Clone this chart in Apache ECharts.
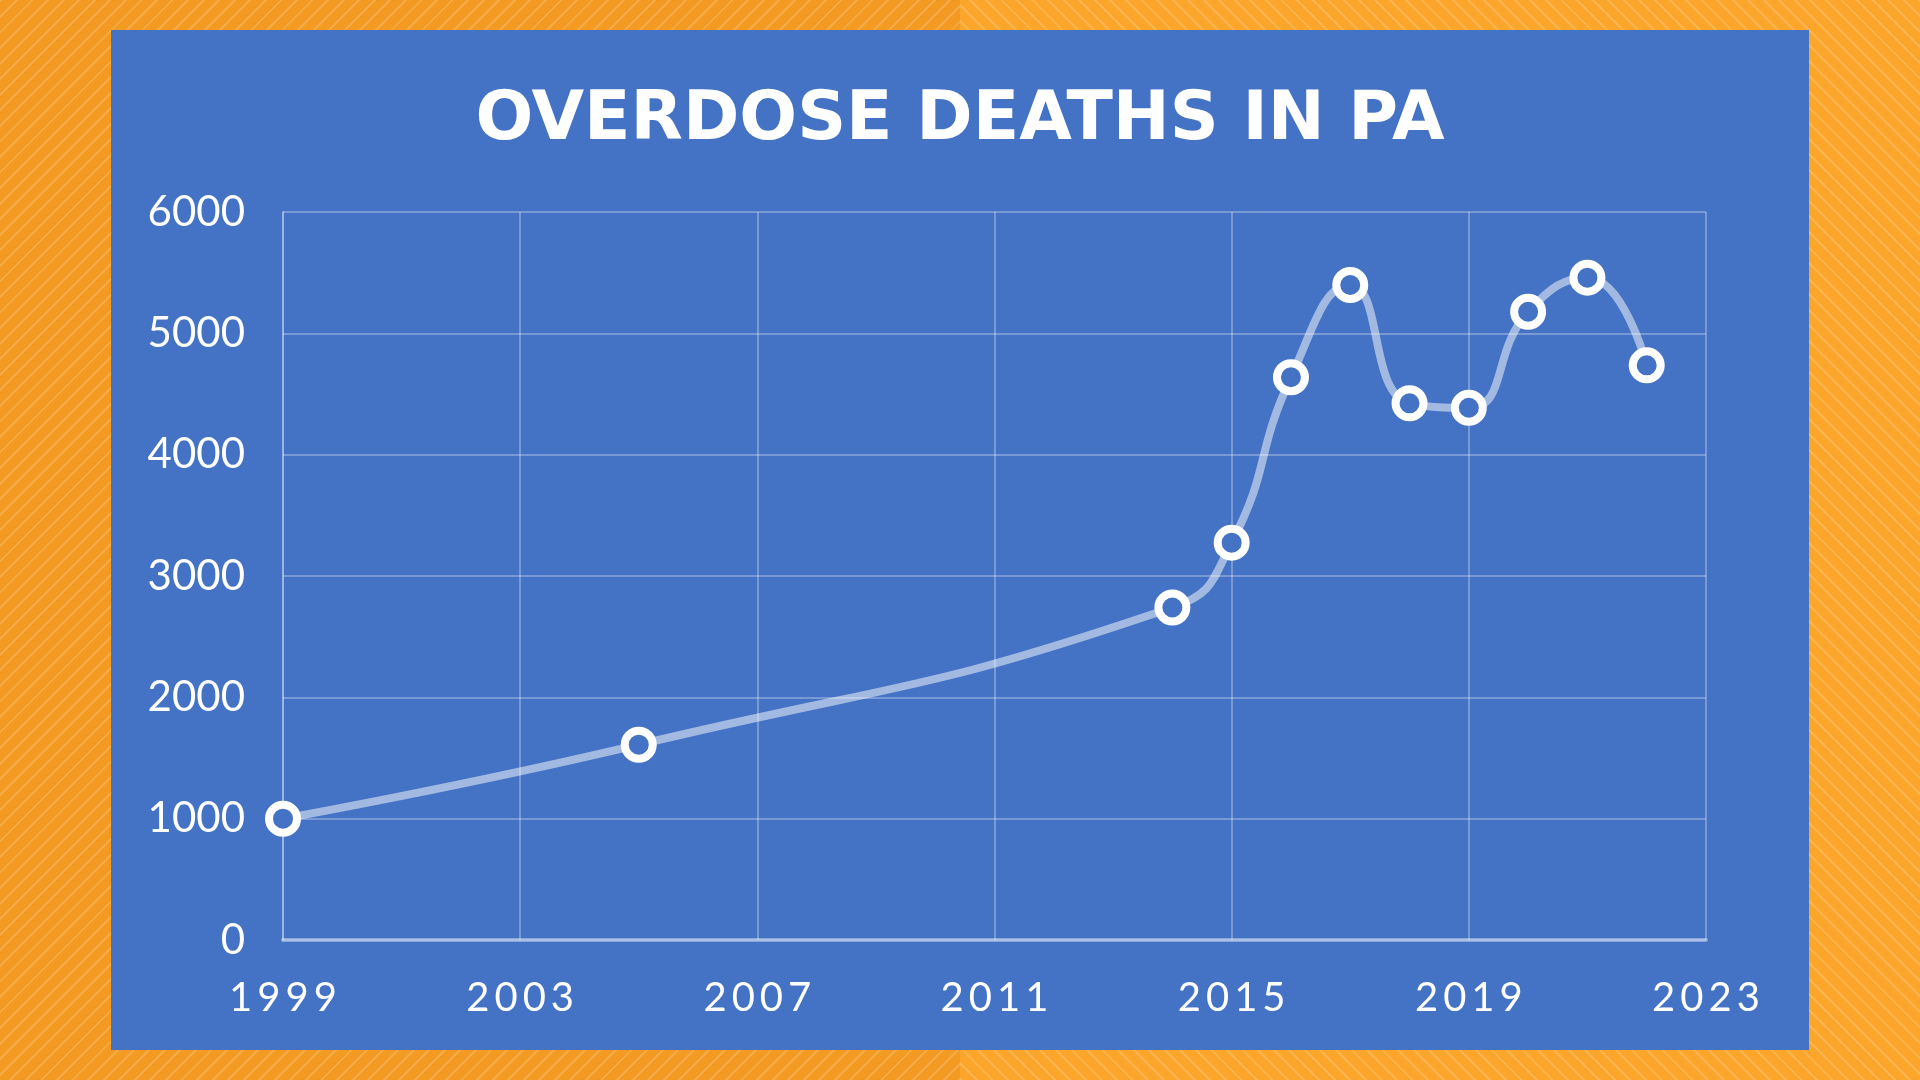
<!DOCTYPE html>
<html>
<head>
<meta charset="utf-8">
<script src="https://cdn.jsdelivr.net/npm/echarts@6/dist/echarts.min.js"></script>
<style>
  html, body { margin: 0; padding: 0; }
  body { width: 1920px; height: 1080px; position: relative; overflow: hidden; background: #F49D24; }
  .bg-left, .bg-right { position: absolute; top: 0; height: 1080px; width: 960px; }
  .bg-left {
    left: 0; background-color: #F29A21;
    background-image: repeating-linear-gradient(135deg, rgba(255,255,255,0.18) 0 2px, transparent 2px 11px);
  }
  .bg-right {
    left: 960px; background-color: #FBA52B;
    background-image: repeating-linear-gradient(45deg, rgba(255,255,255,0.18) 0 2px, transparent 2px 11px);
  }
  #chart { position: absolute; left: 0; top: 0; width: 1920px; height: 1080px; }
</style>
</head>
<body>
<div class="bg-left"></div>
<div class="bg-right"></div>
<div id="chart"></div>
<script>
const years = [1999, 2005, 2014, 2015, 2016, 2017, 2018, 2019, 2020, 2021, 2022]
const deaths = [1000, 1610, 2740, 3275, 4638, 5398, 4423, 4387, 5178, 5459, 4736]

const BLUE = '#4472C4'
const GRID_LINE = 'rgba(255,255,255,0.28)'

const chart = echarts.init(document.getElementById('chart'), null, { renderer: 'canvas' })

// spread year digits a little, like the tracked-out labels in the original
const spaced = v => String(v).split('').join('\u2009')

const option = {
  backgroundColor: 'transparent',
  animation: false,
  graphic: [{
    type: 'rect',
    z: -10,
    shape: { x: 111, y: 30, width: 1698, height: 1020 },
    style: { fill: BLUE },
  }],
  title: {
    text: 'OVERDOSE DEATHS IN PA',
    left: 'center',
    top: 82,
    textStyle: { color: '#fff', fontFamily: 'DejaVu Sans', fontWeight: 'bold', fontSize: 68 },
  },
  grid: { left: 283, right: 214, top: 212, bottom: 140 },
  xAxis: {
    type: 'value',
    min: 1999,
    max: 2023,
    interval: 4,
    axisLine: { show: true, lineStyle: { color: 'rgba(255,255,255,0.38)', width: 4 } },
    axisTick: { show: false },
    axisLabel: { color: '#fff', fontFamily: 'Lato', fontSize: 40, margin: 38, formatter: spaced },
    splitLine: { show: true, lineStyle: { color: GRID_LINE, width: 2 } },
  },
  yAxis: {
    type: 'value',
    min: 0,
    max: 6000,
    interval: 1000,
    axisLine: { show: true, lineStyle: { color: GRID_LINE, width: 2 } },
    axisTick: { show: false },
    axisLabel: { color: '#fff', fontFamily: 'Lato', fontSize: 42, margin: 38, formatter: v => String(v) },
    splitLine: { show: true, lineStyle: { color: GRID_LINE, width: 2 } },
  },
  series: [{
    type: 'line',
    data: years.map((y, i) => [y, deaths[i]]),
    smooth: 0.5,
    lineStyle: { color: 'rgba(255,255,255,0.5)', width: 8 },
    symbol: 'circle',
    symbolSize: 28,
    itemStyle: { color: BLUE, borderColor: '#fff', borderWidth: 8 },
    z: 5,
  }],
}

chart.setOption(option)
</script>
</body>
</html>
